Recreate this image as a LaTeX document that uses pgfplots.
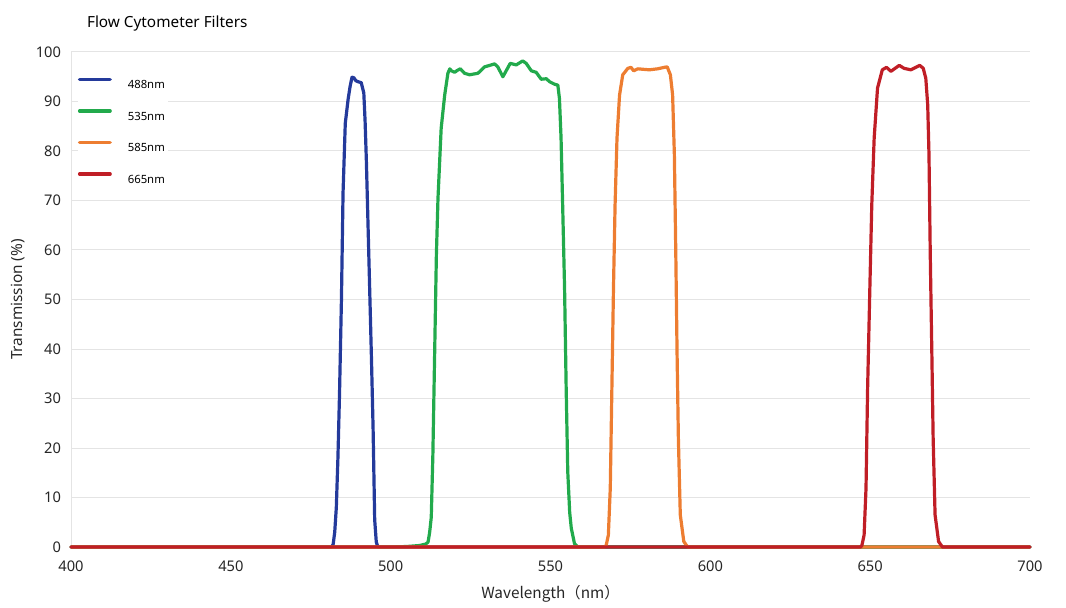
\documentclass[border=0pt]{standalone}
\usepackage{fontspec}
\setmainfont{Noto Sans}
\newfontfamily\cjk{Noto Sans CJK SC}
\usepackage{pgfplots}
\pgfplotsset{compat=1.18}

\definecolor{f488}{RGB}{36,58,155}
\definecolor{f535}{RGB}{34,170,76}
\definecolor{f585}{RGB}{237,125,49}
\definecolor{f665}{RGB}{192,30,38}
\definecolor{gridgray}{RGB}{228,228,228}

\begin{document}
\begin{tikzpicture}
\useasboundingbox (-53.25pt,-45pt) rectangle (746.25pt,410.25pt);
\begin{axis}[
	at = {(0pt,0pt)},
	anchor = south west,
	scale only axis,
	width = 719.25pt,
	height = 371.25pt,
	xmin = 400, xmax = 700,
	ymin = 0, ymax = 100,
	xtick distance = 50,
	ytick distance = 10,
	clip = false,
	axis x line* = bottom,
	axis y line* = left,
	axis line style = {gridgray, line width = 0.75pt},
	major tick length = 0pt,
	ymajorgrids,
	grid style = {gridgray, line width = 0.75pt},
	/pgf/number format/assume math mode = true,
	tick label style = {font = \fontsize{11}{13}\selectfont, black!85},
	xticklabel style = {yshift = -6.5pt},
	yticklabel style = {xshift = -4pt},
	label style = {font = \fontsize{11.5}{14}\selectfont, black!85},
	xlabel = {\cjk Wavelength（nm）},
	xlabel style = {at = {(axis description cs:0.5,-0.094)}, anchor = center},
	ylabel = {Transmission (\%)},
	ylabel style = {at = {(axis description cs:-0.0553,0.5)}, anchor = center},
	title = {Flow Cytometer Filters},
	title style = {at = {(axis description cs:0,1)}, anchor = base west,
		xshift = 8.5pt, yshift = 12.5pt, font = \fontsize{11.5}{14}\selectfont},
	legend cell align = left,
	legend style = {
		at = {(axis description cs:0,1)},
		anchor = north west,
		xshift = 5pt, yshift = -19pt,
		draw = none, fill = white, inner sep = 0pt,
		font = \fontsize{8.5}{10}\selectfont,
		row sep = 12pt,
		/tikz/every odd column/.append style = {column sep = 10pt}
	},
	legend image code/.code = {
		\draw[#1, line width = 2.4pt] (0pt,4.5pt) -- (23pt,4.5pt);
	},
	every axis plot/.append style = {line width = 2.4pt, line join = round, line cap = round}
]
\addplot[f488] coordinates {
	(400,0) (481.5,0) (482.0,0.5) (482.5,3) (483.0,8) (483.5,18) (484.0,31)
	(484.6,50) (485.1,71.5) (485.8,85.6) (486.7,90.5) (487.3,93) (487.9,94.9)
	(488.5,94.8) (489.1,94.2) (489.8,94) (490.8,93.8) (491.6,91.7) (492.0,86)
	(492.4,78) (493.2,58) (494.0,37.8) (494.5,24) (495.0,5.5) (495.5,1)
	(496.0,0) (700,0)
};
\addplot[f535] coordinates {
	(400,0) (500,0) (505,0.1) (509,0.3) (511,0.6) (511.7,1) (512.2,3)
	(512.7,6) (513.2,18.6) (513.75,38.8) (514.3,59) (514.8,70.4) (515.8,84.6)
	(516.9,91.3) (517.9,95.7) (518.5,96.6) (519.0,96.2) (520.0,95.9)
	(520.9,96.3) (521.8,96.6) (523.1,95.7) (524.7,95.4) (527.3,95.7)
	(529.4,97.0) (531,97.3) (532.5,97.6) (533.5,97) (535.1,95) (536.3,96.4)
	(537.4,97.7) (539.3,97.4) (541.3,98.2) (542.4,97.7) (544.0,96.2)
	(545.5,95.9) (547.1,94.5) (548.7,94.6) (549.7,94) (551.25,93.5)
	(552.3,93.3) (552.8,90.6) (553.3,82.6) (553.8,69.1) (554.4,52.3)
	(554.9,32.1) (555.4,15.2) (556.0,7) (556.5,3.8) (557.5,0.7) (558.5,0)
	(700,0)
};
\addplot[f585] coordinates {
	(400,0) (567,0) (567.4,0.3) (568.1,2.4) (568.7,11.9) (569.2,32.1)
	(569.7,52.3) (570.2,69.1) (570.8,82.6) (571.6,91.3) (572.6,95.4)
	(574.2,96.7) (575.2,96.9) (576.0,96.2) (577.3,96.6) (580.9,96.4)
	(583.5,96.6) (585.6,96.9) (586.5,97.0) (587.5,95.4) (588.2,91.3)
	(588.75,79.2) (589.2,59) (589.6,38.8) (590.0,22) (590.6,6.5) (591.7,1.1)
	(592.9,0) (700,0)
};
\addplot[f665] coordinates {
	(400,0) (647,0) (647.4,0.3) (648.1,2.4) (648.7,11.9) (649.2,32.1)
	(649.9,52.3) (650.5,69.1) (651.25,82.6) (652.3,92.7) (653.8,96.4)
	(655.1,96.9) (656.5,96.1) (657.8,96.7) (659.1,97.3) (660.6,96.7)
	(662.7,96.4) (664.3,96.9) (665.5,97.3) (666.6,96.7) (667.4,94.7)
	(668.0,89.3) (668.4,79.2) (668.8,59) (669.3,38.8) (669.7,22) (670.3,6.5)
	(671.4,1.1) (672.6,0) (700,0)
};
\legend{488nm, 535nm, 585nm, 665nm}
\end{axis}
\end{tikzpicture}
\end{document}
